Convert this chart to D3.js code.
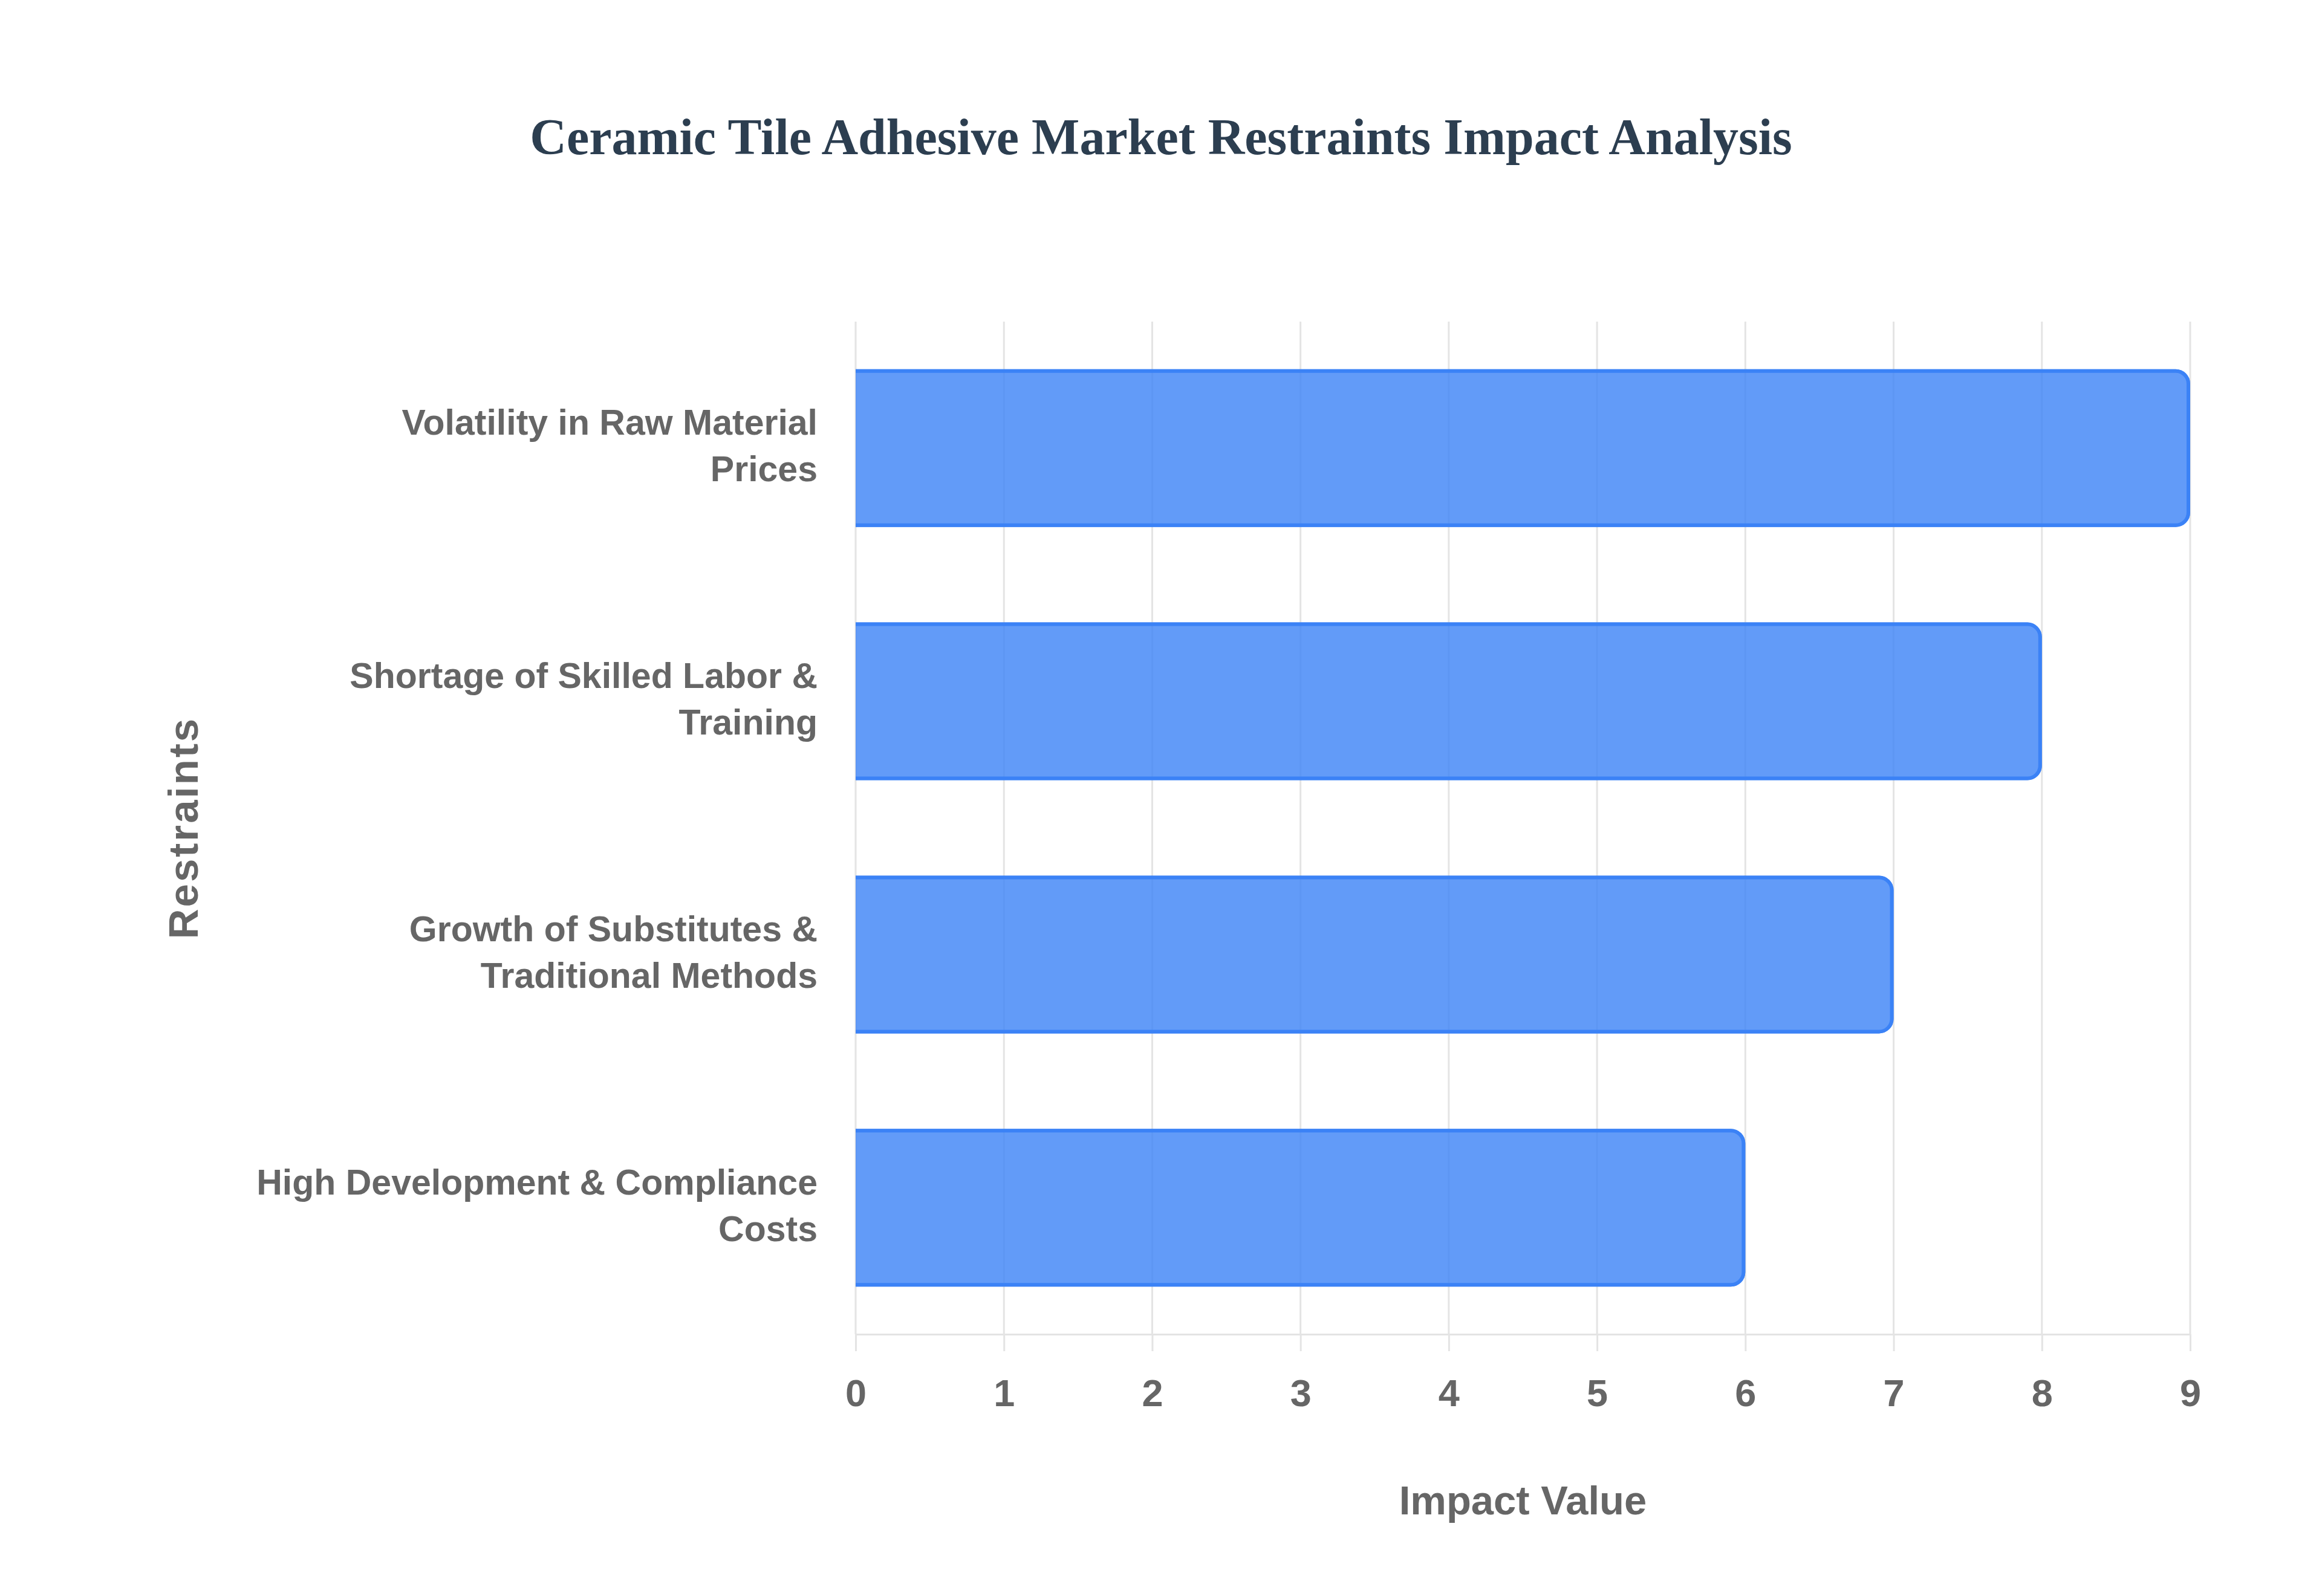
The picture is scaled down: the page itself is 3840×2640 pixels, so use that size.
<!DOCTYPE html>
<html>
<head>
<meta charset="utf-8">
<script src="https://cdn.jsdelivr.net/npm/d3@7/dist/d3.min.js"></script>
<style>
  html, body { margin: 0; padding: 0; background: #fff; }
  svg { display: block; }
</style>
</head>
<body>
<svg id="chart" width="3840" height="2640"></svg>
<script>
// chart data
var chartTitle = 'Ceramic Tile Adhesive Market Restraints Impact Analysis';
var categoryLines = [
  ['Volatility in Raw Material', 'Prices'],
  ['Shortage of Skilled Labor &', 'Training'],
  ['Growth of Substitutes &', 'Traditional Methods'],
  ['High Development & Compliance', 'Costs']
];
var impactValues = [9, 8, 7, 6];
var xTicks = [0, 1, 2, 3, 4, 5, 6, 7, 8, 9];
var xTitle = 'Impact Value';
var yTitle = 'Restraints';

var svg = d3.select('#chart');
var sans = '"Liberation Sans", Arial, Helvetica, sans-serif';

// plot area (window.top is reserved, so prefix everything)
var plotLeft = 1415, plotRight = 3622, plotTop = 532, plotBottom = 2207;

var x = d3.scaleLinear().domain([0, 9]).range([plotLeft, plotRight]);
var y = d3.scaleBand()
  .domain(d3.range(categoryLines.length))
  .range([plotTop, plotBottom])
  .paddingInner(0.377)
  .paddingOuter(0.188);

svg.append('rect').attr('width', 3840).attr('height', 2640).attr('fill', '#fff');

// title
svg.append('text')
  .attr('x', 1920)
  .attr('y', 255)
  .attr('text-anchor', 'middle')
  .attr('font-family', '"Liberation Serif", "Times New Roman", serif')
  .attr('font-weight', 'bold')
  .attr('font-size', 84)
  .attr('fill', '#2c3e50')
  .text(chartTitle);

// vertical grid lines
svg.append('g').selectAll('line')
  .data(xTicks)
  .enter()
  .append('line')
    .attr('x1', function(d){ return x(d); })
    .attr('x2', function(d){ return x(d); })
    .attr('y1', plotTop)
    .attr('y2', plotBottom)
    .attr('stroke', '#e4e4e4')
    .attr('stroke-width', 3);

// bottom axis
var xAxis = svg.append('g')
  .attr('transform', 'translate(0,' + plotBottom + ')')
  .call(d3.axisBottom(x).tickValues(xTicks).tickSize(28).tickSizeOuter(0).tickPadding(46));

xAxis.select('.domain').attr('stroke', '#e4e4e4').attr('stroke-width', 3);
xAxis.selectAll('.tick line').attr('stroke', '#e4e4e4').attr('stroke-width', 3);
xAxis.selectAll('.tick text')
  .attr('font-family', sans)
  .attr('font-weight', 'bold')
  .attr('font-size', 63)
  .attr('fill', '#666');

// bars: square start, rounded end, no border on the start side
var bw = 6, r = 24;
var barFill = function(d, i){
  var x0 = x(0), x1 = x(d), y0 = y(i), y1 = y(i) + y.bandwidth();
  return 'M' + x0 + ',' + y0 + 'H' + (x1 - r) +
    'A' + r + ',' + r + ' 0 0 1 ' + x1 + ',' + (y0 + r) +
    'V' + (y1 - r) +
    'A' + r + ',' + r + ' 0 0 1 ' + (x1 - r) + ',' + y1 +
    'H' + x0 + 'Z';
};
var barBorder = function(d, i){
  var h = bw / 2, rr = r - h;
  var x0 = x(0), x1 = x(d) - h, y0 = y(i) + h, y1 = y(i) + y.bandwidth() - h;
  return 'M' + x0 + ',' + y0 + 'H' + (x1 - rr) +
    'A' + rr + ',' + rr + ' 0 0 1 ' + x1 + ',' + (y0 + rr) +
    'V' + (y1 - rr) +
    'A' + rr + ',' + rr + ' 0 0 1 ' + (x1 - rr) + ',' + y1 +
    'H' + x0;
};

var bars = svg.append('g');
bars.selectAll('path.bar')
  .data(impactValues)
  .enter()
  .append('path')
    .attr('class', 'bar')
    .attr('d', barFill)
    .attr('fill', 'rgba(59,130,246,0.8)');

bars.selectAll('path.border')
  .data(impactValues)
  .enter()
  .append('path')
    .attr('class', 'border')
    .attr('d', barBorder)
    .attr('fill', 'none')
    .attr('stroke', '#3b82f6')
    .attr('stroke-width', bw);

// category labels, two lines each
var lineGap = 77, labelSize = 59;
var labels = svg.append('g').selectAll('text')
  .data(categoryLines)
  .enter()
  .append('text')
    .attr('text-anchor', 'end')
    .attr('font-family', sans)
    .attr('font-weight', 'bold')
    .attr('font-size', labelSize)
    .attr('fill', '#666');

labels.each(function(lines, i){
  var cy = y(i) + y.bandwidth() / 2;
  d3.select(this).selectAll('tspan')
    .data(lines)
    .enter()
    .append('tspan')
      .attr('x', 1352)
      .attr('y', function(d, j){
        return cy + (j - (lines.length - 1) / 2) * lineGap + labelSize * 0.28;
      })
      .text(function(d){ return d; });
});

// axis titles
svg.append('text')
  .attr('x', (plotLeft + plotRight) / 2)
  .attr('y', 2505)
  .attr('text-anchor', 'middle')
  .attr('font-family', sans)
  .attr('font-weight', 'bold')
  .attr('font-size', 67)
  .attr('fill', '#666')
  .text(xTitle);

svg.append('text')
  .attr('transform', 'translate(327,' + ((plotTop + plotBottom) / 2) + ') rotate(-90)')
  .attr('text-anchor', 'middle')
  .attr('font-family', sans)
  .attr('font-weight', 'bold')
  .attr('font-size', 69)
  .attr('letter-spacing', 3)
  .attr('fill', '#666')
  .text(yTitle);
</script>
</body>
</html>
